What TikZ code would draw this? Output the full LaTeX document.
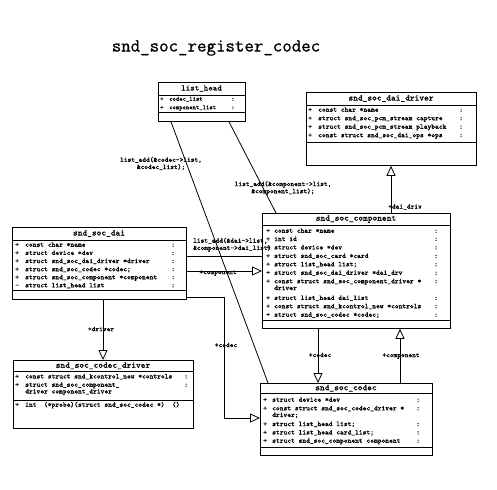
\documentclass[tikz,border=0pt]{standalone}
\usepackage{fontspec}
\usetikzlibrary{arrows.meta}
\newfontfamily\cf{Latin Modern Mono}[RawFeature={embolden=1.3}]
\newfontfamily\cfb{Latin Modern Mono}[RawFeature={embolden=0.6}]
\newfontfamily\cft{Latin Modern Mono}[RawFeature={embolden=0.8}]
\begin{document}
\begin{tikzpicture}[x=1pt,y=-1pt,
  box/.style={draw, line width=0.8pt, inner sep=0, anchor=north west},
  sep/.style={line width=0.8pt},
  ttl/.style={font=\fontsize{9}{10}\selectfont\cfb, inner sep=0},
  att/.style={font=\fontsize{7.1}{8}\selectfont\cf, inner sep=0, anchor=west, text height=5pt, text depth=1.5pt},
  satt/.style={att, font=\fontsize{6.3}{7}\selectfont\cf},
  lbl/.style={font=\fontsize{7}{7.2}\selectfont\cf, inner sep=0},
  conn/.style={line width=0.8pt},
  inh/.style={conn, -{Triangle[open,length=10pt,width=9pt]}}]
\useasboundingbox (0,0) rectangle (497,489);

\node[font=\fontsize{18.4}{20}\selectfont\cft, inner sep=0] (title) at (216,48) {snd\_soc\_register\_codec};

% list_head
\node[box, minimum width=87pt, minimum height=39pt] (lh) at (158,82) {};
\draw[sep] (158,95) -- (245,95);
\draw[sep] (158,112) -- (245,112);
\node[ttl, font=\fontsize{8.5}{9}\selectfont\cfb] (lht) at (201.5,88.5) {list\_head};
\node[satt] (lh1s) at (160,99) {+};
\node[satt] (lh1) at (169,99) {codec\_list};
\node[satt] (lh1c) at (231,99) {:};
\node[satt] (lh2s) at (160,107.5) {+};
\node[satt] (lh2) at (169,107.5) {component\_list};
\node[satt] (lh2c) at (231,107.5) {:};

% snd_soc_dai_driver
\node[box, minimum width=170pt, minimum height=73pt] (dd) at (306,92) {};
\draw[sep] (306,105) -- (476,105);
\draw[sep] (306,142) -- (476,142);
\node[ttl] (ddt) at (391,98.5) {snd\_soc\_dai\_driver};
\node[att] (dd1s) at (308,110) {+};
\node[att] (dd1) at (318,110) {const char *name};
\node[att] (dd1c) at (459,110) {:};
\node[att] (dd2s) at (308,118.5) {+};
\node[att] (dd2) at (318,118.5) {struct snd\_soc\_pcm\_stream capture};
\node[att] (dd2c) at (459,118.5) {:};
\node[att] (dd3s) at (308,127) {+};
\node[att] (dd3) at (318,127) {struct snd\_soc\_pcm\_stream playback};
\node[att] (dd3c) at (459,127) {:};
\node[att] (dd4s) at (308,135.5) {+};
\node[att] (dd4) at (318,135.5) {const struct snd\_soc\_dai\_ops *ops};
\node[att] (dd4c) at (459,135.5) {:};

% snd_soc_component
\node[box, minimum width=188pt, minimum height=115pt] (comp) at (262,213) {};
\draw[sep] (262,225) -- (450,225);
\draw[sep] (262,320) -- (450,320);
\node[ttl] (compt) at (356,219) {snd\_soc\_component};
\node[att] (c1s) at (266,231) {+};
\node[att] (c1) at (274,231) {const char *name};
\node[att] (c1c) at (434,231) {:};
\node[att] (c2s) at (266,239.3) {+};
\node[att] (c2) at (274,239.3) {int id};
\node[att] (c2c) at (434,239.3) {:};
\node[att] (c3s) at (266,247.7) {+};
\node[att] (c3) at (274,247.7) {struct device *dev};
\node[att] (c3c) at (434,247.7) {:};
\node[att] (c4s) at (266,256.2) {+};
\node[att] (c4) at (274,256.2) {struct snd\_soc\_card *card};
\node[att] (c4c) at (434,256.2) {:};
\node[att] (c5s) at (266,264.6) {+};
\node[att] (c5) at (274,264.6) {struct list\_head list;};
\node[att] (c5c) at (434,264.6) {:};
\node[att] (c6s) at (266,273) {+};
\node[att] (c6) at (274,273) {struct snd\_soc\_dai\_driver *dai\_drv};
\node[att] (c6c) at (434,273) {:};
\node[att] (c7s) at (266,281.5) {+};
\node[att] (c7) at (274,281.5) {const struct snd\_soc\_component\_driver *};
\node[att] (c7c) at (434,281.5) {:};
\node[att] (c7b) at (274,288.3) {driver};
\node[att] (c8s) at (266,298.2) {+};
\node[att] (c8) at (274,298.2) {struct list\_head dai\_list};
\node[att] (c8c) at (434,298.2) {:};
\node[att] (c9s) at (266,306.5) {+};
\node[att] (c9) at (274,306.5) {const struct snd\_kcontrol\_new *controls};
\node[att] (c9c) at (434,306.5) {:};
\node[att] (c10s) at (266,315) {+};
\node[att] (c10) at (274,315) {struct snd\_soc\_codec *codec;};
\node[att] (c10c) at (434,315) {:};

% snd_soc_dai
\node[box, minimum width=174pt, minimum height=72pt] (dai) at (12,227) {};
\draw[sep] (12,240) -- (186,240);
\draw[sep] (12,290) -- (186,290);
\node[ttl] (dait) at (99,233.5) {snd\_soc\_dai};
\node[att] (d1s) at (15,245) {+};
\node[att] (d1) at (25,245) {const char *name};
\node[att] (d1c) at (171,245) {:};
\node[att] (d2s) at (15,253.2) {+};
\node[att] (d2) at (25,253.2) {struct device *dev};
\node[att] (d2c) at (171,253.2) {:};
\node[att] (d3s) at (15,261.3) {+};
\node[att] (d3) at (25,261.3) {struct snd\_soc\_dai\_driver *driver};
\node[att] (d3c) at (171,261.3) {:};
\node[att] (d4s) at (15,269.5) {+};
\node[att] (d4) at (25,269.5) {struct snd\_soc\_codec *codec;};
\node[att] (d4c) at (171,269.5) {:};
\node[att] (d5s) at (15,277.5) {+};
\node[att] (d5) at (25,277.5) {struct snd\_soc\_component *component};
\node[att] (d5c) at (171,277.5) {:};
\node[att] (d6s) at (15,285.6) {-};
\node[att] (d6) at (25,285.6) {struct list\_head list};
\node[att] (d6c) at (171,285.6) {:};

% snd_soc_codec_driver
\node[box, minimum width=180pt, minimum height=68pt] (cd) at (13,360) {};
\draw[sep] (13,371.5) -- (193,371.5);
\draw[sep] (13,400) -- (193,400);
\node[ttl] (cdt) at (103,365.8) {snd\_soc\_codec\_driver};
\node[att] (cd1s) at (15,376.7) {+};
\node[att] (cd1) at (25,376.7) {const struct snd\_kcontrol\_new *controls};
\node[att] (cd1c) at (184,376.7) {:};
\node[att] (cd2s) at (15,385) {+};
\node[att] (cd2) at (25,385) {struct snd\_soc\_component\_};
\node[att] (cd2c) at (184,385) {:};
\node[att] (cd2b) at (25,391.7) {driver component\_driver};
\node[att] (cd3s) at (15,405) {+};
\node[att] (cd3) at (25,405) {int\ \ (*probe)(struct snd\_soc\_codec *)\ \ ()};

% snd_soc_codec
\node[box, minimum width=172pt, minimum height=72pt] (codec) at (260,383) {};
\draw[sep] (260,393.3) -- (432,393.3);
\draw[sep] (260,447) -- (432,447);
\node[ttl] (codect) at (346,388.2) {snd\_soc\_codec};
\node[att] (k1s) at (263,400) {+};
\node[att] (k1) at (272,400) {struct device *dev};
\node[att] (k1c) at (416,400) {:};
\node[att] (k2s) at (263,408.6) {+};
\node[att] (k2) at (272,408.6) {const struct snd\_soc\_codec\_driver *};
\node[att] (k2c) at (416,408.6) {:};
\node[att] (k2b) at (272,415.2) {driver;};
\node[att] (k3s) at (263,424.3) {+};
\node[att] (k3) at (272,424.3) {struct list\_head list;};
\node[att] (k3c) at (416,424.3) {:};
\node[att] (k4s) at (263,432.7) {+};
\node[att] (k4) at (272,432.7) {struct list\_head card\_list;};
\node[att] (k4c) at (416,432.7) {:};
\node[att] (k5s) at (263,441) {+};
\node[att] (k5) at (272,441) {struct snd\_soc\_component component};
\node[att] (k5c) at (416,441) {:};

% connectors
\draw[conn] (lh.south -| 171,0) -- (codec.north -| 268,0);
\draw[conn] (lh.south -| 229,0) -- (comp.north -| 276,0);
\draw[conn] (dai.east |- 0,256) -- (comp.west |- 0,256);
\draw[inh] (dai.east |- 0,271) -- (comp.west |- 0,271);
\draw[inh] (dai.south -| 103,0) -- (cd.north -| 103,0);
\draw[inh] (dai.east |- 0,297) -- (224,297) -- (224,418) -- (codec.west |- 0,418);
\draw[inh] (comp.south -| 318,0) -- (codec.north -| 318,0);
\draw[inh] (codec.north -| 400,0) -- (comp.south -| 400,0);
\draw[inh] (comp.north -| 391,0) -- (dd.south -| 391,0);

% labels
\node[lbl, align=center] (l1) at (161,163.5) {list\_add(\&codec->list,\\\&codec\_list);};
\node[lbl, align=center] (l2) at (283,188) {list\_add(\&component->list,\\\&component\_list);};
\node[lbl, align=left, anchor=west] (l3) at (193,244.7) {list\_add(\&dai->list,\\\&component->dai\_list)};
\node[lbl] (l4) at (218,273) {+component};
\node[lbl] (l5) at (101,329) {+driver};
\node[lbl] (l6) at (226,345) {+codec};
\node[lbl] (l7) at (320,355) {+codec};
\node[lbl] (l8) at (401,356) {+component};
\node[lbl] (l9) at (405,207) {+dai\_driv};
\end{tikzpicture}
\end{document}
